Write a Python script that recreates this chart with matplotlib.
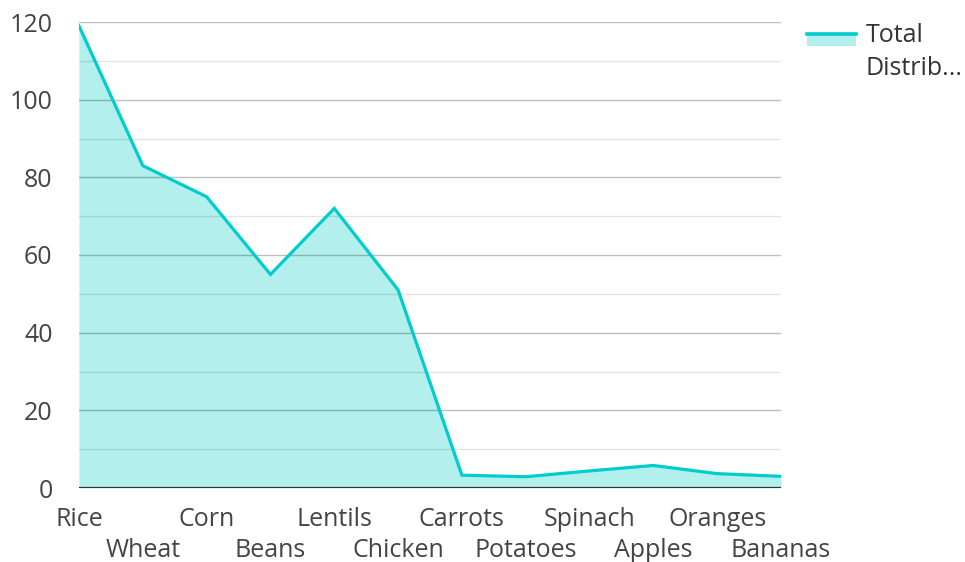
import matplotlib
matplotlib.use("Agg")
import matplotlib.pyplot as plt
from matplotlib.patches import Rectangle
from matplotlib.lines import Line2D
import numpy as np

categories = ["Rice", "Wheat", "Corn", "Beans", "Lentils", "Chicken",
              "Carrots", "Potatoes", "Spinach", "Apples", "Oranges", "Bananas"]
values = [119, 83, 75, 55, 72, 51, 3.3, 2.9, 4.4, 5.8, 3.7, 3.0]
series_name = "Total Distrib..."
yticks = [0, 20, 40, 60, 80, 100, 120]

plt.rcParams['font.family'] = ['Open Sans', 'DejaVu Sans']

W, H = 965, 562
fig = plt.figure(figsize=(W / 100, H / 100), dpi=100)
left, right, top, bottom = 79, 781, 22, 488
ax = fig.add_axes([left / W, 1 - bottom / H, (right - left) / W, (bottom - top) / H])

line_color = "#00CDCC"
fill_color = "#B2EFED"
x = np.arange(len(categories))

ax.fill_between(x, values, 0, color=fill_color, lw=0, zorder=1)
ax.plot(x, values, color=line_color, lw=2.3, zorder=3, solid_joinstyle='miter')

ax.set_xlim(0, len(categories) - 1)
ax.set_ylim(0, 120)

for v in range(10, 121, 20):
    ax.axhline(v, color="#0000001a", lw=1.0, zorder=2)
for v in yticks[1:]:
    ax.axhline(v, color="#00000040", lw=1.0, zorder=2)
ax.axhline(0, color="#333333", lw=1.6, zorder=4)

for s in ax.spines.values():
    s.set_visible(False)

FS = 18
ax.set_yticks(yticks)
ax.set_yticklabels([str(t) for t in yticks])
ax.tick_params(axis='y', length=0, pad=19, labelsize=FS, labelcolor="#444444")
ax.set_xticks(x)
ax.set_xticklabels(categories)
ax.tick_params(axis='x', length=0, labelsize=FS, labelcolor="#444444")
for i, t in enumerate(ax.xaxis.get_major_ticks()):
    t.set_pad(14 if i % 2 == 0 else 36)

# legend
fig.patches.append(Rectangle((807 / W, 1 - 46 / H), 49 / W, 13 / H,
                             transform=fig.transFigure, color=fill_color, lw=0))
fig.lines.append(Line2D([807 / W, 856 / W], [1 - 34 / H] * 2, transform=fig.transFigure,
                        color=line_color, lw=2.6))
fig.text(866 / W, 1 - 35 / H, "Total", fontsize=FS, color="#333333", va='center', ha='left')
fig.text(866 / W, 1 - 68 / H, "Distrib...", fontsize=FS, color="#333333", va='center', ha='left')

fig.savefig("out.png", dpi=100)
